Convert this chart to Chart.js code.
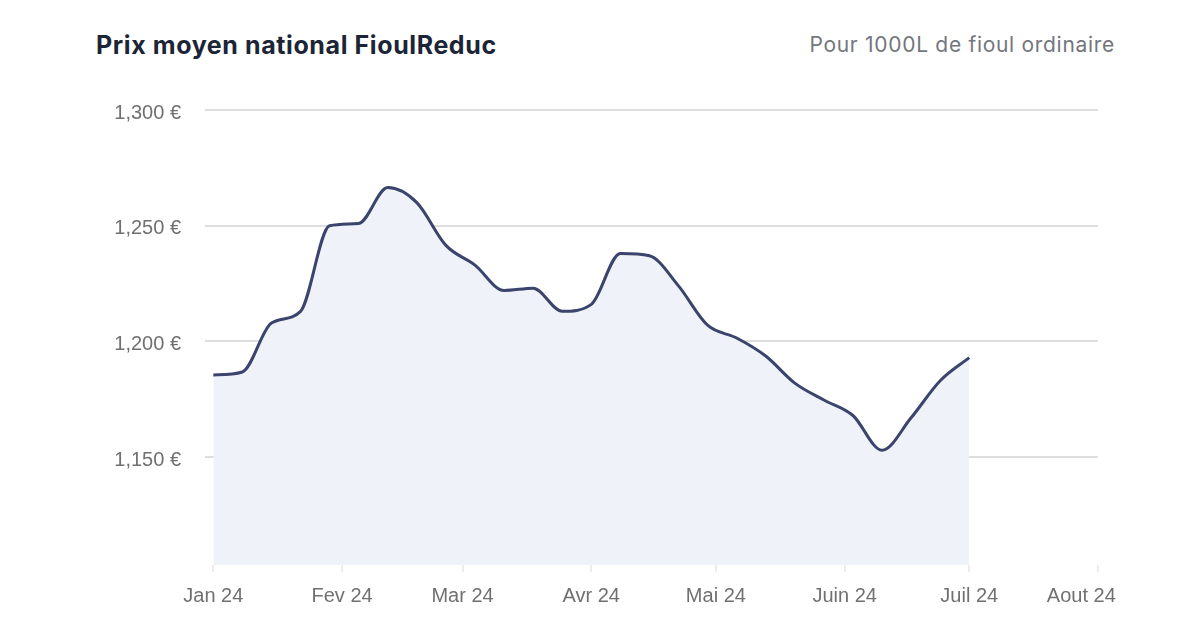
<!DOCTYPE html>
<html>
<head>
<meta charset="utf-8">
<script src="https://cdn.jsdelivr.net/npm/chart.js@4"></script>
<style>
  html, body { margin: 0; padding: 0; background: #fff; }
  #wrap { position: relative; width: 1200px; height: 627px; overflow: hidden; }
  #title {
    position: absolute; left: 96px; top: 30px;
    font: 700 25px 'Inter', sans-serif; color: #1c2536; letter-spacing: 0.6px;
  }
  #subtitle {
    position: absolute; right: 85px; top: 32px;
    font: 400 21px 'Inter', sans-serif; color: #73767d; letter-spacing: 0.7px;
  }
  canvas { position: absolute; left: 0; top: 0; }
</style>
</head>
<body>
<div id="wrap">
  <div id="title">Prix moyen national FioulReduc</div>
  <div id="subtitle">Pour 1000L de fioul ordinaire</div>
  <canvas id="chart" width="1200" height="627"></canvas>
</div>
<script>
// weekly points, day of year 2024 (Jan 1 = 0)
const days = [0, 7, 14, 21, 28, 35, 42, 49, 56, 63, 70, 77, 84, 91, 98, 105, 112, 119, 126, 133, 140, 147, 154, 161, 168, 175, 182];
const prices = [1185.5, 1186.8, 1208, 1213, 1250, 1251, 1266.5, 1260, 1241.5, 1233, 1222, 1223, 1213, 1216, 1238, 1237, 1224, 1207, 1201.5, 1193.7, 1182, 1174.7, 1168, 1153, 1167, 1183, 1193];

const monthDays = [0, 31, 60, 91, 121, 152, 182, 213];
const monthLabels = ['Jan 24', 'Fev 24', 'Mar 24', 'Avr 24', 'Mai 24', 'Juin 24', 'Juil 24', 'Aout 24'];
const yTicks = [1150, 1200, 1250, 1300];

const fmtEuro = v => {
  const s = String(Math.round(v));
  return s.slice(0, s.length - 3) + ',' + s.slice(-3) + ' €';
};

new Chart(document.getElementById('chart'), {
  type: 'line',
  data: {
    datasets: [{
      data: days.map((d, i) => ({ x: d, y: prices[i] })),
      borderColor: '#3a446c',
      borderWidth: 3,
      backgroundColor: '#eff3f9',
      fill: 'start',
      pointRadius: 0,
      cubicInterpolationMode: 'monotone'
    }]
  },
  options: {
    responsive: false,
    animation: false,
    layout: { padding: { top: 110, right: 102, bottom: 0, left: 0 } },
    plugins: { legend: { display: false }, tooltip: { enabled: false } },
    scales: {
      x: {
        type: 'linear',
        min: -2,
        max: 213,
        afterBuildTicks: s => { s.ticks = monthDays.map(v => ({ value: v })); },
        afterFit: s => { s.height = 62; },
        grid: { drawOnChartArea: false, color: '#ececec', lineWidth: 2, tickLength: 7 },
        border: { display: false },
        ticks: {
          padding: 12,
          maxRotation: 0,
          autoSkip: false,
          color: '#707070',
          font: { family: "'Liberation Sans', Arial, sans-serif", size: 20 },
          // last label sits pulled in from the edge, like the original
          callback: v => {
            const i = monthDays.indexOf(v);
            return i === monthLabels.length - 1 ? monthLabels[i] + '      ' : monthLabels[i];
          }
        }
      },
      y: {
        min: 1103.4,
        max: 1300,
        afterBuildTicks: s => { s.ticks = yTicks.map(v => ({ value: v })); },
        afterFit: s => { s.width = 205; },
        grid: { color: '#dedede', lineWidth: 2, drawTicks: false },
        border: { display: false },
        ticks: {
          padding: 24,
          labelOffset: 3,
          color: '#707070',
          font: { family: "'Liberation Sans', Arial, sans-serif", size: 20 },
          callback: v => fmtEuro(v)
        }
      }
    }
  }
});
</script>
</body>
</html>
